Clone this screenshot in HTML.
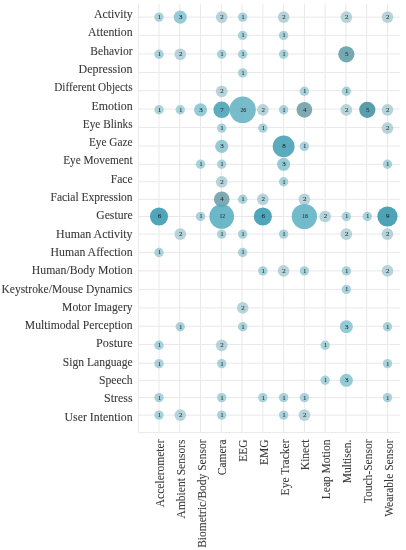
<!DOCTYPE html><html><head><meta charset="utf-8"><style>html,body{margin:0;padding:0;background:#fff;width:406px;height:550px;overflow:hidden}svg{display:block}text{font-family:"Liberation Serif",serif}</style></head><body>
<svg width="406" height="550" viewBox="0 0 406 550">
<g stroke="#e8e8ed" stroke-width="1" fill="none">
<line x1="138.4" y1="17.10" x2="400" y2="17.10"/>
<line x1="138.4" y1="35.40" x2="400" y2="35.40"/>
<line x1="138.4" y1="53.90" x2="400" y2="53.90"/>
<line x1="138.4" y1="72.50" x2="400" y2="72.50"/>
<line x1="138.4" y1="90.70" x2="400" y2="90.70"/>
<line x1="138.4" y1="109.00" x2="400" y2="109.00"/>
<line x1="138.4" y1="127.50" x2="400" y2="127.50"/>
<line x1="138.4" y1="146.00" x2="400" y2="146.00"/>
<line x1="138.4" y1="164.30" x2="400" y2="164.30"/>
<line x1="138.4" y1="181.80" x2="400" y2="181.80"/>
<line x1="138.4" y1="199.30" x2="400" y2="199.30"/>
<line x1="138.4" y1="216.50" x2="400" y2="216.50"/>
<line x1="138.4" y1="234.10" x2="400" y2="234.10"/>
<line x1="138.4" y1="252.50" x2="400" y2="252.50"/>
<line x1="138.4" y1="270.90" x2="400" y2="270.90"/>
<line x1="138.4" y1="289.40" x2="400" y2="289.40"/>
<line x1="138.4" y1="307.90" x2="400" y2="307.90"/>
<line x1="138.4" y1="326.20" x2="400" y2="326.20"/>
<line x1="138.4" y1="344.50" x2="400" y2="344.50"/>
<line x1="138.4" y1="363.20" x2="400" y2="363.20"/>
<line x1="138.4" y1="380.30" x2="400" y2="380.30"/>
<line x1="138.4" y1="397.60" x2="400" y2="397.60"/>
<line x1="138.4" y1="415.10" x2="400" y2="415.10"/>
<line x1="159.00" y1="3.6" x2="159.00" y2="432.6"/>
<line x1="179.77" y1="3.6" x2="179.77" y2="432.6"/>
<line x1="200.54" y1="3.6" x2="200.54" y2="432.6"/>
<line x1="221.31" y1="3.6" x2="221.31" y2="432.6"/>
<line x1="242.08" y1="3.6" x2="242.08" y2="432.6"/>
<line x1="262.85" y1="3.6" x2="262.85" y2="432.6"/>
<line x1="283.62" y1="3.6" x2="283.62" y2="432.6"/>
<line x1="304.39" y1="3.6" x2="304.39" y2="432.6"/>
<line x1="325.16" y1="3.6" x2="325.16" y2="432.6"/>
<line x1="345.93" y1="3.6" x2="345.93" y2="432.6"/>
<line x1="366.70" y1="3.6" x2="366.70" y2="432.6"/>
<line x1="387.47" y1="3.6" x2="387.47" y2="432.6"/>
<line x1="138.4" y1="3.6" x2="138.4" y2="432.6"/>
<line x1="138.4" y1="432.6" x2="400" y2="432.6"/>
</g>
<g>
<circle cx="159.00" cy="17.10" r="4.70" fill="#9acad3" fill-opacity="0.85"/>
<circle cx="180.27" cy="17.10" r="6.55" fill="#82c2cf" fill-opacity="0.85"/>
<circle cx="221.71" cy="17.10" r="5.85" fill="#a9ccd2" fill-opacity="0.85"/>
<circle cx="242.68" cy="17.10" r="4.70" fill="#9acad3" fill-opacity="0.85"/>
<circle cx="283.62" cy="17.10" r="5.85" fill="#a9ccd2" fill-opacity="0.85"/>
<circle cx="346.33" cy="17.10" r="5.85" fill="#a9ccd2" fill-opacity="0.85"/>
<circle cx="387.47" cy="17.10" r="5.85" fill="#a9ccd2" fill-opacity="0.85"/>
<circle cx="242.68" cy="35.40" r="4.70" fill="#9acad3" fill-opacity="0.85"/>
<circle cx="283.62" cy="35.40" r="4.70" fill="#9acad3" fill-opacity="0.85"/>
<circle cx="159.00" cy="54.30" r="4.70" fill="#9acad3" fill-opacity="0.85"/>
<circle cx="180.27" cy="54.30" r="5.85" fill="#a9ccd2" fill-opacity="0.85"/>
<circle cx="221.71" cy="54.30" r="4.70" fill="#9acad3" fill-opacity="0.85"/>
<circle cx="242.68" cy="54.30" r="4.70" fill="#9acad3" fill-opacity="0.85"/>
<circle cx="283.62" cy="54.30" r="4.70" fill="#9acad3" fill-opacity="0.85"/>
<circle cx="346.33" cy="54.30" r="8.10" fill="#5b9aa6" fill-opacity="0.85"/>
<circle cx="242.68" cy="72.90" r="4.70" fill="#9acad3" fill-opacity="0.85"/>
<circle cx="221.71" cy="91.30" r="5.85" fill="#a9ccd2" fill-opacity="0.85"/>
<circle cx="304.39" cy="91.30" r="4.70" fill="#9acad3" fill-opacity="0.85"/>
<circle cx="346.33" cy="91.30" r="4.70" fill="#9acad3" fill-opacity="0.85"/>
<circle cx="159.00" cy="109.80" r="4.70" fill="#9acad3" fill-opacity="0.85"/>
<circle cx="180.27" cy="109.80" r="4.70" fill="#9acad3" fill-opacity="0.85"/>
<circle cx="200.54" cy="109.80" r="6.55" fill="#82c2cf" fill-opacity="0.85"/>
<circle cx="221.71" cy="109.80" r="8.30" fill="#429fb4" fill-opacity="0.85"/>
<circle cx="242.68" cy="109.80" r="13.20" fill="#60b0c2" fill-opacity="0.85"/>
<circle cx="262.85" cy="109.80" r="5.85" fill="#a9ccd2" fill-opacity="0.85"/>
<circle cx="283.62" cy="109.80" r="4.70" fill="#9acad3" fill-opacity="0.85"/>
<circle cx="304.39" cy="109.80" r="7.85" fill="#6a9ba4" fill-opacity="0.85"/>
<circle cx="346.33" cy="109.80" r="5.85" fill="#a9ccd2" fill-opacity="0.85"/>
<circle cx="367.30" cy="109.80" r="8.10" fill="#3d8d9a" fill-opacity="0.85"/>
<circle cx="387.47" cy="109.80" r="5.85" fill="#a9ccd2" fill-opacity="0.85"/>
<circle cx="221.71" cy="128.10" r="4.70" fill="#9acad3" fill-opacity="0.85"/>
<circle cx="262.85" cy="128.10" r="4.70" fill="#9acad3" fill-opacity="0.85"/>
<circle cx="387.47" cy="128.10" r="5.85" fill="#a9ccd2" fill-opacity="0.85"/>
<circle cx="221.71" cy="146.40" r="6.55" fill="#82c2cf" fill-opacity="0.85"/>
<circle cx="283.62" cy="146.40" r="10.90" fill="#3d9cb1" fill-opacity="0.85"/>
<circle cx="304.39" cy="146.40" r="4.70" fill="#9acad3" fill-opacity="0.85"/>
<circle cx="200.54" cy="164.30" r="4.70" fill="#9acad3" fill-opacity="0.85"/>
<circle cx="221.71" cy="164.30" r="4.70" fill="#9acad3" fill-opacity="0.85"/>
<circle cx="283.62" cy="164.30" r="6.55" fill="#82c2cf" fill-opacity="0.85"/>
<circle cx="387.47" cy="164.30" r="4.70" fill="#9acad3" fill-opacity="0.85"/>
<circle cx="221.71" cy="181.80" r="5.85" fill="#a9ccd2" fill-opacity="0.85"/>
<circle cx="283.62" cy="181.80" r="4.70" fill="#9acad3" fill-opacity="0.85"/>
<circle cx="221.71" cy="199.30" r="7.85" fill="#6a9ba4" fill-opacity="0.85"/>
<circle cx="242.68" cy="199.30" r="4.70" fill="#9acad3" fill-opacity="0.85"/>
<circle cx="262.85" cy="199.30" r="5.85" fill="#a9ccd2" fill-opacity="0.85"/>
<circle cx="304.39" cy="199.30" r="5.85" fill="#a9ccd2" fill-opacity="0.85"/>
<circle cx="159.00" cy="216.50" r="9.05" fill="#3196ad" fill-opacity="0.85"/>
<circle cx="200.54" cy="216.50" r="4.70" fill="#9acad3" fill-opacity="0.85"/>
<circle cx="221.71" cy="216.50" r="12.30" fill="#52aabe" fill-opacity="0.85"/>
<circle cx="262.85" cy="216.50" r="9.05" fill="#3196ad" fill-opacity="0.85"/>
<circle cx="304.39" cy="216.50" r="12.60" fill="#59afc2" fill-opacity="0.85"/>
<circle cx="325.16" cy="216.50" r="5.85" fill="#a9ccd2" fill-opacity="0.85"/>
<circle cx="346.33" cy="216.50" r="4.70" fill="#9acad3" fill-opacity="0.85"/>
<circle cx="367.30" cy="216.50" r="4.70" fill="#9acad3" fill-opacity="0.85"/>
<circle cx="387.47" cy="216.50" r="10.10" fill="#2f94a9" fill-opacity="0.85"/>
<circle cx="180.27" cy="234.10" r="5.85" fill="#a9ccd2" fill-opacity="0.85"/>
<circle cx="221.71" cy="234.10" r="4.70" fill="#9acad3" fill-opacity="0.85"/>
<circle cx="242.68" cy="234.10" r="4.70" fill="#9acad3" fill-opacity="0.85"/>
<circle cx="283.62" cy="234.10" r="4.70" fill="#9acad3" fill-opacity="0.85"/>
<circle cx="346.33" cy="234.10" r="5.85" fill="#a9ccd2" fill-opacity="0.85"/>
<circle cx="387.47" cy="234.10" r="5.85" fill="#a9ccd2" fill-opacity="0.85"/>
<circle cx="159.00" cy="252.50" r="4.70" fill="#9acad3" fill-opacity="0.85"/>
<circle cx="242.68" cy="252.50" r="4.70" fill="#9acad3" fill-opacity="0.85"/>
<circle cx="262.85" cy="270.90" r="4.70" fill="#9acad3" fill-opacity="0.85"/>
<circle cx="283.62" cy="270.90" r="5.85" fill="#a9ccd2" fill-opacity="0.85"/>
<circle cx="304.39" cy="270.90" r="4.70" fill="#9acad3" fill-opacity="0.85"/>
<circle cx="346.33" cy="270.90" r="4.70" fill="#9acad3" fill-opacity="0.85"/>
<circle cx="387.47" cy="270.90" r="5.85" fill="#a9ccd2" fill-opacity="0.85"/>
<circle cx="346.33" cy="289.40" r="4.70" fill="#9acad3" fill-opacity="0.85"/>
<circle cx="242.68" cy="307.90" r="5.85" fill="#a9ccd2" fill-opacity="0.85"/>
<circle cx="180.27" cy="326.70" r="4.70" fill="#9acad3" fill-opacity="0.85"/>
<circle cx="242.68" cy="326.70" r="4.70" fill="#9acad3" fill-opacity="0.85"/>
<circle cx="346.33" cy="326.70" r="6.55" fill="#82c2cf" fill-opacity="0.85"/>
<circle cx="387.47" cy="326.70" r="4.70" fill="#9acad3" fill-opacity="0.85"/>
<circle cx="159.00" cy="345.30" r="4.70" fill="#9acad3" fill-opacity="0.85"/>
<circle cx="221.71" cy="345.30" r="5.85" fill="#a9ccd2" fill-opacity="0.85"/>
<circle cx="325.16" cy="345.30" r="4.70" fill="#9acad3" fill-opacity="0.85"/>
<circle cx="159.00" cy="363.60" r="4.70" fill="#9acad3" fill-opacity="0.85"/>
<circle cx="221.71" cy="363.60" r="4.70" fill="#9acad3" fill-opacity="0.85"/>
<circle cx="387.47" cy="363.60" r="4.70" fill="#9acad3" fill-opacity="0.85"/>
<circle cx="325.16" cy="380.30" r="4.70" fill="#9acad3" fill-opacity="0.85"/>
<circle cx="346.33" cy="380.30" r="6.55" fill="#82c2cf" fill-opacity="0.85"/>
<circle cx="159.00" cy="397.60" r="4.70" fill="#9acad3" fill-opacity="0.85"/>
<circle cx="221.71" cy="397.60" r="4.70" fill="#9acad3" fill-opacity="0.85"/>
<circle cx="262.85" cy="397.60" r="4.70" fill="#9acad3" fill-opacity="0.85"/>
<circle cx="283.62" cy="397.60" r="4.70" fill="#9acad3" fill-opacity="0.85"/>
<circle cx="304.39" cy="397.60" r="4.70" fill="#9acad3" fill-opacity="0.85"/>
<circle cx="387.47" cy="397.60" r="4.70" fill="#9acad3" fill-opacity="0.85"/>
<circle cx="159.00" cy="415.10" r="4.70" fill="#9acad3" fill-opacity="0.85"/>
<circle cx="180.27" cy="415.10" r="5.85" fill="#a9ccd2" fill-opacity="0.85"/>
<circle cx="221.71" cy="415.10" r="4.70" fill="#9acad3" fill-opacity="0.85"/>
<circle cx="283.62" cy="415.10" r="4.70" fill="#9acad3" fill-opacity="0.85"/>
<circle cx="304.39" cy="415.10" r="5.85" fill="#a9ccd2" fill-opacity="0.85"/>
</g>
<g font-size="7" fill="#1e2b30" stroke="#1e2b30" stroke-width="0.05" text-anchor="middle">
<text x="159.40" y="19.00">1</text>
<text x="180.67" y="19.00">3</text>
<text x="222.11" y="19.00">2</text>
<text x="243.08" y="19.00">1</text>
<text x="284.02" y="19.00">2</text>
<text x="346.73" y="19.00">2</text>
<text x="387.87" y="19.00">2</text>
<text x="243.08" y="37.30">1</text>
<text x="284.02" y="37.30">1</text>
<text x="159.40" y="56.20">1</text>
<text x="180.67" y="56.20">2</text>
<text x="222.11" y="56.20">1</text>
<text x="243.08" y="56.20">1</text>
<text x="284.02" y="56.20">1</text>
<text x="346.73" y="56.20">5</text>
<text x="243.08" y="74.80">1</text>
<text x="222.11" y="93.20">2</text>
<text x="304.79" y="93.20">1</text>
<text x="346.73" y="93.20">1</text>
<text x="159.40" y="111.70">1</text>
<text x="180.67" y="111.70">1</text>
<text x="200.94" y="111.70">3</text>
<text x="222.11" y="111.70">7</text>
<text x="243.28" y="111.60" textLength="5.8" lengthAdjust="spacingAndGlyphs">26</text>
<text x="263.25" y="111.70">2</text>
<text x="284.02" y="111.70">1</text>
<text x="304.79" y="111.70">4</text>
<text x="346.73" y="111.70">2</text>
<text x="367.70" y="111.70">5</text>
<text x="387.87" y="111.70">2</text>
<text x="222.11" y="130.00">1</text>
<text x="263.25" y="130.00">1</text>
<text x="387.87" y="130.00">2</text>
<text x="222.11" y="148.30">3</text>
<text x="284.02" y="148.30">8</text>
<text x="304.79" y="148.30">1</text>
<text x="200.94" y="166.20">1</text>
<text x="222.11" y="166.20">1</text>
<text x="284.02" y="166.20">3</text>
<text x="387.87" y="166.20">1</text>
<text x="222.11" y="183.70">2</text>
<text x="284.02" y="183.70">1</text>
<text x="222.11" y="201.20">4</text>
<text x="243.08" y="201.20">1</text>
<text x="263.25" y="201.20">2</text>
<text x="304.79" y="201.20">2</text>
<text x="159.40" y="218.40">6</text>
<text x="200.94" y="218.40">1</text>
<text x="222.31" y="218.30" textLength="5.8" lengthAdjust="spacingAndGlyphs">12</text>
<text x="263.25" y="218.40">6</text>
<text x="304.99" y="218.30" textLength="5.8" lengthAdjust="spacingAndGlyphs">16</text>
<text x="325.56" y="218.40">2</text>
<text x="346.73" y="218.40">1</text>
<text x="367.70" y="218.40">1</text>
<text x="387.87" y="218.40">9</text>
<text x="180.67" y="236.00">2</text>
<text x="222.11" y="236.00">1</text>
<text x="243.08" y="236.00">1</text>
<text x="284.02" y="236.00">1</text>
<text x="346.73" y="236.00">2</text>
<text x="387.87" y="236.00">2</text>
<text x="159.40" y="254.40">1</text>
<text x="243.08" y="254.40">1</text>
<text x="263.25" y="272.80">1</text>
<text x="284.02" y="272.80">2</text>
<text x="304.79" y="272.80">1</text>
<text x="346.73" y="272.80">1</text>
<text x="387.87" y="272.80">2</text>
<text x="346.73" y="291.30">1</text>
<text x="243.08" y="309.80">2</text>
<text x="180.67" y="328.60">1</text>
<text x="243.08" y="328.60">1</text>
<text x="346.73" y="328.60">3</text>
<text x="387.87" y="328.60">1</text>
<text x="159.40" y="347.20">1</text>
<text x="222.11" y="347.20">2</text>
<text x="325.56" y="347.20">1</text>
<text x="159.40" y="365.50">1</text>
<text x="222.11" y="365.50">1</text>
<text x="387.87" y="365.50">1</text>
<text x="325.56" y="382.20">1</text>
<text x="346.73" y="382.20">3</text>
<text x="159.40" y="399.50">1</text>
<text x="222.11" y="399.50">1</text>
<text x="263.25" y="399.50">1</text>
<text x="284.02" y="399.50">1</text>
<text x="304.79" y="399.50">1</text>
<text x="387.87" y="399.50">1</text>
<text x="159.40" y="417.00">1</text>
<text x="180.67" y="417.00">2</text>
<text x="222.11" y="417.00">1</text>
<text x="284.02" y="417.00">1</text>
<text x="304.79" y="417.00">2</text>
</g>
<g font-size="11.5" fill="#383838" stroke="#383838" stroke-width="0.08" text-anchor="end">
<text x="132.6" y="18.10" textLength="38.65" lengthAdjust="spacingAndGlyphs">Activity</text>
<text x="132.6" y="36.40" textLength="44.49" lengthAdjust="spacingAndGlyphs">Attention</text>
<text x="132.6" y="54.69" textLength="42.26" lengthAdjust="spacingAndGlyphs">Behavior</text>
<text x="132.6" y="72.99" textLength="54.03" lengthAdjust="spacingAndGlyphs">Depression</text>
<text x="132.6" y="91.29" textLength="78.44" lengthAdjust="spacingAndGlyphs">Different Objects</text>
<text x="132.6" y="109.58" textLength="40.98" lengthAdjust="spacingAndGlyphs">Emotion</text>
<text x="132.6" y="127.88" textLength="49.76" lengthAdjust="spacingAndGlyphs">Eye Blinks</text>
<text x="132.6" y="146.18" textLength="43.65" lengthAdjust="spacingAndGlyphs">Eye Gaze</text>
<text x="132.6" y="164.47" textLength="69.47" lengthAdjust="spacingAndGlyphs">Eye Movement</text>
<text x="132.6" y="182.77" textLength="21.83" lengthAdjust="spacingAndGlyphs">Face</text>
<text x="132.6" y="201.07" textLength="82.08" lengthAdjust="spacingAndGlyphs">Facial Expression</text>
<text x="132.6" y="219.36" textLength="36.38" lengthAdjust="spacingAndGlyphs">Gesture</text>
<text x="132.6" y="237.66" textLength="76.46" lengthAdjust="spacingAndGlyphs">Human Activity</text>
<text x="132.6" y="255.95" textLength="82.00" lengthAdjust="spacingAndGlyphs">Human Affection</text>
<text x="132.6" y="274.25" textLength="100.75" lengthAdjust="spacingAndGlyphs">Human/Body Motion</text>
<text x="132.6" y="292.55" textLength="131.08" lengthAdjust="spacingAndGlyphs">Keystroke/Mouse Dynamics</text>
<text x="132.6" y="310.84" textLength="70.46" lengthAdjust="spacingAndGlyphs">Motor Imagery</text>
<text x="132.6" y="329.14" textLength="107.78" lengthAdjust="spacingAndGlyphs">Multimodal Perception</text>
<text x="132.6" y="347.44" textLength="36.49" lengthAdjust="spacingAndGlyphs">Posture</text>
<text x="132.6" y="365.73" textLength="69.72" lengthAdjust="spacingAndGlyphs">Sign Language</text>
<text x="132.6" y="384.03" textLength="33.63" lengthAdjust="spacingAndGlyphs">Speech</text>
<text x="132.6" y="402.33" textLength="28.54" lengthAdjust="spacingAndGlyphs">Stress</text>
<text x="132.6" y="420.62" textLength="68.07" lengthAdjust="spacingAndGlyphs">User Intention</text>
</g>
<g font-size="11.5" fill="#383838" stroke="#383838" stroke-width="0.08" text-anchor="end">
<text transform="translate(164.10,439.5) rotate(-90)">Accelerometer</text>
<text transform="translate(184.87,439.5) rotate(-90)">Ambient Sensors</text>
<text transform="translate(205.64,439.5) rotate(-90)">Biometric/Body Sensor</text>
<text transform="translate(226.41,439.5) rotate(-90)">Camera</text>
<text transform="translate(247.18,439.5) rotate(-90)">EEG</text>
<text transform="translate(267.95,439.5) rotate(-90)">EMG</text>
<text transform="translate(288.72,439.5) rotate(-90)">Eye Tracker</text>
<text transform="translate(309.49,439.5) rotate(-90)">Kinect</text>
<text transform="translate(330.26,439.5) rotate(-90)">Leap Motion</text>
<text transform="translate(351.03,439.5) rotate(-90)">Multisen.</text>
<text transform="translate(371.80,439.5) rotate(-90)">Touch-Sensor</text>
<text transform="translate(392.57,439.5) rotate(-90)">Wearable Sensor</text>
</g>
</svg></body></html>
